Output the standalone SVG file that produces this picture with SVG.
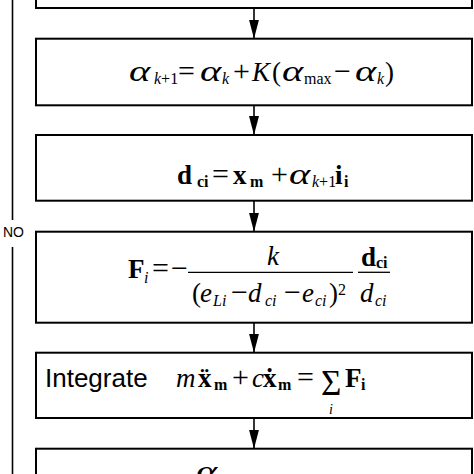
<svg xmlns="http://www.w3.org/2000/svg" width="474" height="474" viewBox="0 0 474 474">
<defs>
<marker id="ah" markerUnits="userSpaceOnUse" markerWidth="20" markerHeight="12" viewBox="0 0 20 12" refX="19" refY="6" orient="auto">
<path d="M0,1 L19,6 L0,11 Z" fill="#000"/>
</marker>
<style>
.box{fill:#fff;stroke:#000;stroke-width:2}
.conn{stroke:#000;stroke-width:1.6;fill:none}
text{font-family:"Liberation Serif","Times New Roman",serif;font-size:27px;fill:#000}
.op{font-size:30px}
.it{font-style:italic}
.b{font-weight:bold}
.s{font-size:16px}
.al{font-size:29px;font-style:italic}
.sans{font-family:"Liberation Sans",Arial,sans-serif}
</style>
</defs>
<rect width="474" height="474" fill="#fff"/>
<g id="connectors">
<line class="conn" x1="12.5" y1="0" x2="12.5" y2="220"/>
<line class="conn" x1="12.5" y1="247" x2="12.5" y2="474"/>
<text class="sans" x="3" y="237" style="font-size:14px">NO</text>
<line class="conn" x1="254" y1="8" x2="254" y2="38.7" marker-end="url(#ah)"/>
<line class="conn" x1="254" y1="105.3" x2="254" y2="135" marker-end="url(#ah)"/>
<line class="conn" x1="254" y1="200.7" x2="254" y2="231.7" marker-end="url(#ah)"/>
<line class="conn" x1="254" y1="322.7" x2="254" y2="352.7" marker-end="url(#ah)"/>
<line class="conn" x1="254" y1="418" x2="254" y2="448.7" marker-end="url(#ah)"/>
</g>
<g id="node1">
<rect class="box" x="36" y="-20" width="436" height="28"/>
</g>
<g id="node2">
<rect class="box" x="36" y="38.7" width="436" height="66.6"/>
<text class="al" transform="translate(129,81) scale(1.4,1)">α</text>
<text class="s" x="154" y="84"><tspan class="it">k</tspan>+1</text>
<text class="op" x="178" y="81">=</text>
<text class="al" transform="translate(200,81) scale(1.4,1)">α</text>
<text class="s it" x="222" y="84">k</text>
<text class="op" x="233" y="81">+</text>
<text class="it" x="252" y="81">K</text>
<text x="272" y="81">(</text>
<text class="al" transform="translate(282,81) scale(1.4,1)">α</text>
<text class="s" x="304" y="84">max</text>
<text class="op" x="334" y="81">−</text>
<text class="al" transform="translate(355,81) scale(1.4,1)">α</text>
<text class="s it" x="377" y="84">k</text>
<text x="385" y="81">)</text>
</g>
<g id="node3">
<rect class="box" x="36" y="135" width="436" height="65.7"/>
<text class="b" x="177" y="184">d</text>
<text class="b s" x="197" y="187">ci</text>
<text class="op" x="212" y="184">=</text>
<text class="b" x="233" y="184">x</text>
<text class="b s" x="250" y="187">m</text>
<text class="op" x="271" y="184">+</text>
<text class="al" transform="translate(289,184) scale(1.4,1)">α</text>
<text class="s" x="312" y="187"><tspan class="it">k</tspan>+1</text>
<text class="b" x="335" y="184">i</text>
<text class="b s" x="344" y="187">i</text>
</g>
<g id="node4">
<rect class="box" x="36" y="231.7" width="436" height="91"/>
<text class="b" x="128" y="278">F</text>
<text class="s it" x="144" y="283">i</text>
<text class="op" x="152" y="278">=</text>
<text class="op" x="171" y="278">−</text>
<line x1="188" y1="272.3" x2="353" y2="272.3" stroke="#000" stroke-width="1.3"/>
<text class="it" x="267" y="265">k</text>
<text x="192" y="302">(</text>
<text class="it" x="200" y="302">e</text>
<text class="s it" x="213" y="306">Li</text>
<text class="op" x="231" y="302">−</text>
<text class="it" x="248" y="302">d</text>
<text class="s it" x="265" y="306">ci</text>
<text class="op" x="284" y="302">−</text>
<text class="it" x="302" y="302">e</text>
<text class="s it" x="315" y="306">ci</text>
<text x="329" y="302">)</text>
<text class="s" x="338" y="295">2</text>
<line x1="358" y1="272.3" x2="390" y2="272.3" stroke="#000" stroke-width="1.3"/>
<text class="b" x="361" y="266">d</text>
<text class="b s" x="376" y="268">ci</text>
<text class="it" x="360" y="302">d</text>
<text class="s it" x="375" y="306">ci</text>
</g>
<g id="node5">
<rect class="box" x="36" y="352.7" width="436" height="65.3"/>
<text class="sans" x="45" y="387" style="font-size:26px">Integrate</text>
<text class="it" x="176" y="387">m</text>
<text class="b" x="198" y="387">ẍ</text>
<text class="b s" x="214" y="390">m</text>
<text class="op" x="232" y="387">+</text>
<text class="it" x="252" y="387">c</text>
<text class="b" x="263" y="387">ẋ</text>
<text class="b s" x="278" y="390">m</text>
<text class="op" x="297" y="387">=</text>
<text x="321" y="395" style="font-size:35px">Σ</text>
<text class="it" x="329" y="414" style="font-size:14px">i</text>
<text class="b" x="345" y="387">F</text>
<text class="b s" x="361" y="390">i</text>
</g>
<g id="node6">
<rect class="box" x="36" y="448.7" width="436" height="60"/>
<text class="al" transform="translate(196,481) scale(1.4,1)">α</text>
<text class="s it" x="219" y="486">k</text>
</g>
</svg>
